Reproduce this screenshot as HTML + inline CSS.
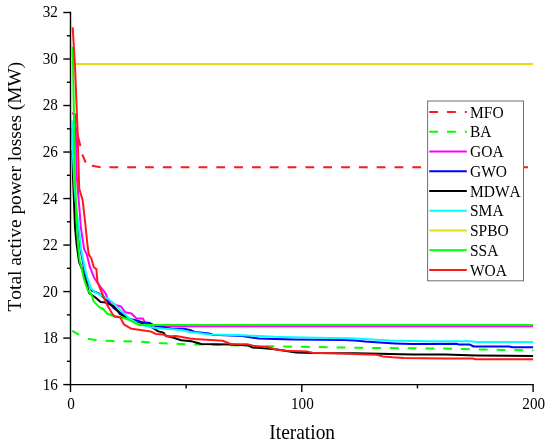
<!DOCTYPE html>
<html><head><meta charset="utf-8"><title>Convergence curves</title>
<style>html,body{margin:0;padding:0;background:#fff}body{width:550px;height:447px;overflow:hidden}</style></head>
<body>
<svg width="550" height="447" viewBox="0 0 550 447" style="display:block">
<rect width="550" height="447" fill="#fff"/>
<style>text{font-kerning:none;font-feature-settings:"kern" 0,"liga" 0}</style>
<path d="M109.4,167.2 H533.1" fill="none" stroke="#ff1a1a" stroke-width="2.0" stroke-dasharray="8.8,9.02"/>
<path d="M76.2,128.0 L78.1,136.7 L80.4,146.0 L82.3,154.5 L85.7,162.5 L88.0,164.8 L92.0,165.8 L100.7,167.2 L109.4,167.2" fill="none" stroke="#ff1a1a" stroke-width="2.0" stroke-linejoin="round" stroke-dasharray="18.48,8.7,8.69,7.37,8.81,100"/>
<path d="M105.6,340.7 L123.6,341.2 L141.0,341.8 L159.0,343.1 L187.0,344.2 L270.0,346.3 L360.0,347.8 L445.0,348.6 L485.5,349.6 L533.4,350.3" fill="none" stroke="#00ff00" stroke-width="2.0" stroke-dasharray="8.8,8.98"/>
<path d="M72.2,330.8 L79.0,334.7 L84.0,337.3 L87.9,338.8 L96.6,340.2 L105.6,340.7" fill="none" stroke="#00ff00" stroke-width="2.0" stroke-linejoin="round" stroke-dasharray="7.84,9.81,8.81,100"/>
<path d="M72.0,113.2 L75.2,114.5 L76.0,140.0 L76.8,177.0 L79.7,212.0 L80.8,227.0 L84.2,249.3 L86.8,254.4 L90.0,267.2 L94.2,277.8 L99.3,285.4 L105.7,293.7 L108.3,300.7 L115.9,305.2 L121.0,306.5 L125.1,312.2 L131.5,313.5 L136.6,318.6 L143.0,318.6 L144.9,322.4 L150.6,323.7 L156.0,326.3 L533.1,326.3" fill="none" stroke="#ff00ff" stroke-width="2.0" stroke-linejoin="round"/>
<path d="M72.6,128.0 L73.0,160.0 L74.6,195.0 L76.4,214.0 L78.2,227.0 L80.5,249.0 L84.2,268.5 L86.0,275.0 L89.1,285.4 L91.7,290.5 L99.3,293.7 L108.3,302.0 L114.0,308.4 L121.0,313.0 L128.0,318.5 L136.6,320.5 L143.0,322.4 L149.3,322.8 L155.0,326.0 L171.0,328.4 L183.8,328.8 L190.0,330.0 L194.8,332.0 L209.5,333.6 L212.8,334.8 L242.3,336.1 L258.6,338.5 L275.0,339.0 L294.5,339.5 L343.6,340.0 L355.0,340.6 L365.0,341.6 L379.5,342.6 L395.0,343.4 L412.3,344.0 L456.4,343.8 L459.0,344.6 L470.0,344.6 L473.6,346.5 L509.0,346.5 L512.7,347.2 L533.1,347.2" fill="none" stroke="#0000ff" stroke-width="2.0" stroke-linejoin="round"/>
<path d="M72.5,150.5 L73.0,177.0 L75.0,227.0 L76.6,244.0 L79.1,262.0 L82.5,270.0 L85.3,279.0 L89.1,293.0 L95.5,297.5 L100.6,302.0 L105.7,302.6 L113.4,305.8 L118.5,312.2 L120.0,314.0 L127.7,318.6 L136.6,322.4 L149.3,325.6 L158.3,331.4 L163.4,332.6 L165.9,335.8 L173.6,337.7 L181.2,340.3 L191.5,341.3 L201.4,344.0 L230.8,344.6 L248.8,345.6 L252.1,347.5 L266.8,348.4 L275.0,349.2 L296.0,352.5 L312.5,353.0 L355.0,353.3 L379.5,353.8 L412.3,354.4 L445.0,354.6 L476.4,355.5 L533.1,355.9" fill="none" stroke="#000000" stroke-width="2.0" stroke-linejoin="round"/>
<path d="M72.4,120.4 L72.7,150.0 L74.6,190.0 L76.6,212.0 L78.8,227.0 L81.0,249.3 L84.9,268.5 L86.6,275.2 L90.4,288.0 L95.5,292.4 L100.6,295.0 L108.3,298.8 L114.6,304.5 L121.0,310.8 L128.9,318.0 L139.1,324.3 L151.9,327.5 L164.6,328.8 L181.2,330.0 L190.0,332.0 L209.5,334.5 L242.3,335.3 L275.0,336.8 L302.7,337.4 L330.0,338.0 L350.0,338.3 L365.0,339.0 L376.0,339.7 L390.0,340.4 L412.3,340.9 L428.6,341.3 L471.0,341.3 L476.4,341.9 L533.1,341.9" fill="none" stroke="#00ffff" stroke-width="2.0" stroke-linejoin="round"/>
<path d="M72.7,64.0 L533.1,64.0" fill="none" stroke="#e6dc14" stroke-width="2.0" stroke-linejoin="round"/>
<path d="M72.7,46.8 L73.9,115.0 L74.9,177.0 L76.9,227.0 L77.9,244.0 L79.8,262.0 L80.8,265.0 L84.0,279.0 L87.9,290.5 L91.7,295.0 L93.6,301.4 L99.3,307.1 L103.2,309.0 L107.0,313.5 L113.4,316.0 L120.0,316.7 L127.7,319.2 L139.1,325.0 L533.1,325.0" fill="none" stroke="#00ff00" stroke-width="2.0" stroke-linejoin="round"/>
<path d="M72.7,27.4 L75.0,66.0 L77.4,126.0 L79.2,188.5 L82.6,200.0 L84.9,220.0 L87.4,244.2 L88.7,254.4 L91.3,258.3 L93.8,267.2 L96.4,269.1 L97.4,281.6 L101.9,293.0 L107.0,304.5 L112.1,313.5 L114.6,316.7 L120.4,317.5 L123.8,324.3 L131.5,328.8 L140.4,330.0 L150.6,331.4 L155.7,333.9 L163.4,334.5 L167.2,336.5 L176.1,336.0 L190.0,338.4 L194.8,339.0 L222.6,340.7 L230.8,344.0 L247.2,344.3 L253.7,345.9 L266.8,346.7 L275.0,349.2 L286.4,350.8 L307.6,351.6 L312.5,352.8 L340.0,353.6 L360.0,354.2 L376.3,354.8 L382.8,356.4 L392.6,357.3 L404.1,358.0 L445.0,358.5 L472.7,358.5 L475.5,359.2 L533.1,359.2" fill="none" stroke="#ff1a1a" stroke-width="2.0" stroke-linejoin="round"/>
<g stroke="#000" stroke-width="1.4" fill="none">
<path d="M70.5,11.8 V385.3"/>
<path d="M69.8,384.6 H533.8000000000001"/>
<path d="M63.3,384.60 H70.5"/>
<path d="M66.9,361.34 H70.5"/>
<path d="M63.3,338.09 H70.5"/>
<path d="M66.9,314.83 H70.5"/>
<path d="M63.3,291.58 H70.5"/>
<path d="M66.9,268.32 H70.5"/>
<path d="M63.3,245.06 H70.5"/>
<path d="M66.9,221.81 H70.5"/>
<path d="M63.3,198.55 H70.5"/>
<path d="M66.9,175.29 H70.5"/>
<path d="M63.3,152.04 H70.5"/>
<path d="M66.9,128.78 H70.5"/>
<path d="M63.3,105.52 H70.5"/>
<path d="M66.9,82.27 H70.5"/>
<path d="M63.3,59.01 H70.5"/>
<path d="M66.9,35.76 H70.5"/>
<path d="M63.3,12.50 H70.5"/>
<path d="M70.50,384.6 V392.1"/>
<path d="M186.15,384.6 V388.4"/>
<path d="M301.80,384.6 V392.1"/>
<path d="M417.45,384.6 V388.4"/>
<path d="M533.10,384.6 V392.1"/>
</g>
<g font-family="'Liberation Serif','Times New Roman',serif" font-size="16" fill="#000">
<text transform="translate(57.9,389.5) scale(0.95,1)" text-anchor="end">16</text>
<text transform="translate(57.9,343.0) scale(0.95,1)" text-anchor="end">18</text>
<text transform="translate(57.9,296.5) scale(0.95,1)" text-anchor="end">20</text>
<text transform="translate(57.9,250.0) scale(0.95,1)" text-anchor="end">22</text>
<text transform="translate(57.9,203.5) scale(0.95,1)" text-anchor="end">24</text>
<text transform="translate(57.9,156.9) scale(0.95,1)" text-anchor="end">26</text>
<text transform="translate(57.9,110.4) scale(0.95,1)" text-anchor="end">28</text>
<text transform="translate(57.9,63.9) scale(0.95,1)" text-anchor="end">30</text>
<text transform="translate(57.9,17.4) scale(0.95,1)" text-anchor="end">32</text>
<text transform="translate(71.1,408.8) scale(0.95,1)" text-anchor="middle">0</text>
<text transform="translate(302.4,408.8) scale(0.95,1)" text-anchor="middle">100</text>
<text transform="translate(533.7,408.8) scale(0.95,1)" text-anchor="middle">200</text>
</g>
<text transform="translate(302.2,439.0) scale(0.975,1)" text-anchor="middle" font-family="'Liberation Serif','Times New Roman',serif" font-size="19.9" fill="#000">Iteration</text>
<text transform="translate(21.3,186.6) rotate(-90)" text-anchor="middle" font-family="'Liberation Serif','Times New Roman',serif" font-size="19.4" fill="#000">Total active power losses (MW)</text>
<rect x="427.6" y="101" width="95.9" height="179.8" fill="#fff" stroke="#6e6e6e" stroke-width="1"/>
<g font-family="'Liberation Serif','Times New Roman',serif" font-size="16.2" fill="#000">
<path d="M429.2,112.00 H466.8" stroke="#ff1a1a" stroke-width="1.8" fill="none" stroke-dasharray="8.8,9.02"/>
<text transform="translate(470.0,117.60) scale(0.957,1)">MFO</text>
<path d="M429.2,131.75 H466.8" stroke="#00ff00" stroke-width="1.8" fill="none" stroke-dasharray="8.8,9.02"/>
<text transform="translate(470.0,137.35) scale(0.957,1)">BA</text>
<path d="M429.2,151.50 H466.8" stroke="#ff00ff" stroke-width="1.8" fill="none"/>
<text transform="translate(470.0,157.10) scale(0.957,1)">GOA</text>
<path d="M429.2,171.25 H466.8" stroke="#0000ff" stroke-width="1.8" fill="none"/>
<text transform="translate(470.0,176.85) scale(0.957,1)">GWO</text>
<path d="M429.2,191.00 H466.8" stroke="#000000" stroke-width="1.8" fill="none"/>
<text transform="translate(470.0,196.60) scale(0.957,1)">MDWA</text>
<path d="M429.2,210.75 H466.8" stroke="#00ffff" stroke-width="1.8" fill="none"/>
<text transform="translate(470.0,216.35) scale(0.957,1)">SMA</text>
<path d="M429.2,230.50 H466.8" stroke="#e6dc14" stroke-width="1.8" fill="none"/>
<text transform="translate(470.0,236.10) scale(0.957,1)">SPBO</text>
<path d="M429.2,250.25 H466.8" stroke="#00ff00" stroke-width="1.8" fill="none"/>
<text transform="translate(470.0,255.85) scale(0.957,1)">SSA</text>
<path d="M429.2,270.00 H466.8" stroke="#ff1a1a" stroke-width="1.8" fill="none"/>
<text transform="translate(470.0,275.60) scale(0.957,1)">WOA</text>
</g>
</svg>
</body></html>
